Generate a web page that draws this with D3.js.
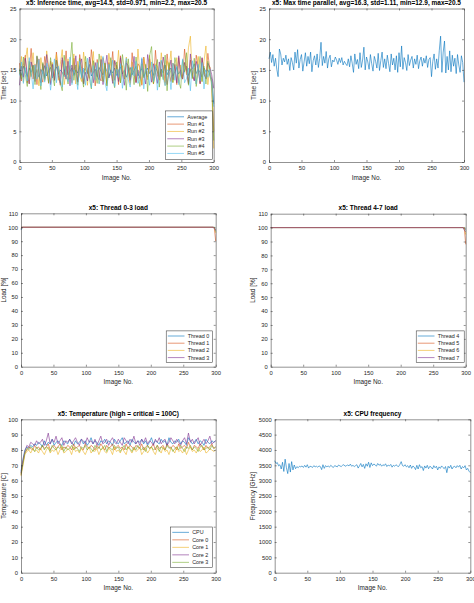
<!DOCTYPE html>
<html>
<head>
<meta charset="utf-8">
<script src="https://cdn.jsdelivr.net/npm/d3@7"></script>
<style>
  body { margin: 0; background: #fff; }
  svg { display: block; font-family: "Liberation Sans", Arial, Helvetica, sans-serif; }
</style>
</head>
<body>
<svg id="fig" width="474" height="603"></svg>
<script>
// ---------------- data ----------------
var xTicks = [0, 50, 100, 150, 200, 250, 300];

// inference time per run, one sample every 3 images (0..300)
var timeStep = 3;
var timeAvg = [15.2,14.1,15.6,14.8,13.9,15.3,14.6,15.8,14.2,14.9,13.8,15.1,14.4,15.7,14.0,14.8,15.4,13.7,14.9,15.5,
  14.3,15.0,14.6,13.9,15.6,14.2,14.8,15.3,14.1,15.0,14.5,15.7,13.8,14.9,15.2,14.4,15.9,14.0,14.6,15.1,
  13.9,15.4,14.7,14.2,15.6,14.8,13.7,15.0,14.5,15.3,14.1,14.9,15.5,14.3,15.0,13.8,14.7,15.4,14.2,14.9,
  15.6,14.0,14.8,15.2,13.9,14.6,15.3,14.4,15.0,14.1,15.5,14.7,13.8,15.1,14.5,15.8,14.2,14.9,15.3,14.0,
  14.7,15.4,14.3,15.0,13.9,14.8,15.6,14.1,14.9,15.2,16.0,14.4,15.1,14.6,13.8,15.3,14.7,15.0,14.2,13.5,9.5];
var timeRun1 = [16.1,13.2,15.8,17.4,12.9,14.6,18.5,13.5,15.9,12.6,16.8,14.1,13.0,17.2,15.3,12.8,16.4,14.9,13.3,17.9,
  15.0,12.5,16.6,14.2,18.1,13.4,15.7,12.9,16.9,14.4,13.1,17.5,15.2,12.7,16.3,14.8,13.6,18.3,15.4,12.4,
  16.7,14.0,13.2,17.0,15.6,12.8,16.2,14.5,18.0,13.3,15.8,12.6,17.3,14.7,13.5,16.5,15.1,12.9,17.8,14.3,
  13.0,16.0,15.5,12.5,17.1,14.6,13.8,16.8,15.0,12.7,18.2,14.2,13.4,16.4,15.7,12.9,17.6,14.8,13.1,16.1,
  15.3,12.6,17.0,14.4,13.7,18.4,15.2,12.8,16.6,14.0,13.3,17.4,15.6,12.7,16.9,14.9,13.5,17.7,15.1,13.0,5.0];
var timeRun2 = [14.3,17.2,13.0,16.5,18.6,12.8,15.4,17.8,13.6,15.1,12.4,17.0,14.8,13.2,18.1,15.6,12.9,16.2,14.1,17.5,
  13.3,15.9,18.3,12.6,14.7,16.8,13.5,15.2,17.6,12.7,16.4,14.0,13.1,17.9,15.3,12.5,16.7,14.6,18.0,13.4,
  15.0,12.8,17.3,14.3,16.1,12.4,17.7,15.5,13.2,16.6,14.4,18.2,12.9,15.7,13.6,17.1,14.9,12.6,16.3,15.0,
  13.0,18.4,14.5,12.7,16.9,15.2,13.4,17.4,14.1,12.8,16.0,15.6,13.3,17.8,14.7,12.5,16.5,15.1,18.1,13.0,
  14.6,17.0,12.9,15.8,13.5,16.2,14.2,18.6,20.5,13.6,15.3,12.7,17.2,14.8,13.1,16.4,18.9,12.6,15.5,12.0,2.2];
var timeRun3 = [12.5,15.6,13.8,16.9,14.2,12.7,16.3,15.0,13.1,17.2,14.5,12.9,16.0,13.6,17.5,14.8,12.6,15.9,13.3,16.6,
  14.1,12.8,17.0,15.2,13.5,16.4,12.4,15.8,14.3,17.3,13.0,15.5,16.8,12.7,14.6,13.2,17.1,15.3,12.9,16.2,
  14.0,13.4,16.7,12.6,15.1,17.4,13.7,14.9,12.8,16.5,15.4,13.1,17.0,14.2,12.5,16.1,15.7,13.3,14.7,17.2,
  12.9,15.0,13.6,16.8,14.4,12.7,17.5,15.3,13.0,16.0,14.6,12.8,16.3,13.9,17.1,15.2,12.6,14.8,16.6,13.4,
  15.9,12.9,17.3,14.1,13.5,16.2,15.0,12.7,17.6,14.5,13.2,16.4,15.1,12.8,17.0,14.3,13.6,16.1,15.4,14.2,12.0];
var timeRun4 = [15.0,13.5,17.1,14.2,12.3,16.4,13.9,15.7,12.6,17.3,14.8,11.8,16.2,13.4,15.5,12.9,17.0,14.1,12.4,16.6,
  15.2,13.0,11.6,17.4,14.5,12.7,16.0,19.5,13.3,15.8,12.5,16.9,14.0,12.2,17.2,15.1,13.6,11.9,16.5,14.7,
  12.8,17.6,15.3,13.1,16.1,12.4,14.9,17.0,13.5,12.1,16.3,14.4,12.9,17.5,15.0,11.7,16.8,13.8,15.4,12.6,
  17.1,14.2,12.3,16.0,13.7,15.9,11.5,17.3,18.8,12.8,14.6,16.7,12.2,15.1,13.4,17.4,11.6,16.2,14.3,12.9,
  17.0,15.5,13.2,12.0,16.6,14.7,17.8,12.5,15.2,13.6,16.9,12.3,14.8,17.2,13.1,15.6,12.7,16.4,14.0,13.0,3.5];
var timeRun5 = [14.1,16.3,12.8,15.4,13.2,17.0,14.6,11.9,15.8,13.5,16.7,12.4,14.9,13.0,16.1,15.2,11.7,14.4,16.8,12.9,
  15.6,13.7,12.2,16.5,14.3,13.1,17.1,12.6,15.0,14.2,11.8,16.4,13.6,15.3,12.5,16.9,14.8,12.1,15.7,13.3,
  16.2,12.7,14.5,17.2,13.0,11.6,15.9,14.1,16.6,12.3,15.1,13.8,16.0,12.0,14.7,16.9,13.4,12.2,15.5,14.0,
  16.4,12.8,13.5,17.0,11.9,15.2,14.6,12.5,16.3,13.1,15.8,11.7,14.3,16.6,13.7,12.4,15.0,14.8,11.8,16.1,
  13.3,15.6,12.6,14.2,16.8,12.9,13.6,15.3,11.6,16.5,14.4,12.7,15.9,13.2,16.2,11.9,14.9,13.8,15.1,12.5,9.0];

// max time in parallel, one sample every 2 images
var maxStep = 2;
var maxTime = [16.8,17.9,16.2,17.5,15.6,16.9,15.1,13.9,18.4,17.6,15.8,16.9,16.3,17.4,15.9,16.8,14.9,17.0,16.2,15.0,
  17.9,16.1,18.3,15.3,16.7,17.5,14.8,16.3,17.8,15.6,17.2,16.0,17.9,14.7,16.5,17.3,15.8,17.6,15.4,16.9,
  19.5,15.7,17.2,16.1,18.0,15.3,16.8,17.4,15.5,16.6,16.3,17.1,16.6,15.9,16.9,16.2,17.0,15.8,16.4,16.0,
  15.7,16.8,15.5,17.3,16.1,14.6,17.6,15.9,16.7,15.2,17.8,15.4,16.6,18.7,15.0,17.1,16.3,15.1,17.5,16.0,
  14.8,17.2,16.4,15.3,17.7,14.9,16.5,17.9,15.4,16.8,15.2,17.4,16.0,14.7,17.6,15.8,16.9,15.0,17.3,14.6,
  17.8,15.5,18.9,15.1,17.0,16.2,14.9,17.5,15.7,16.6,17.2,15.3,16.8,15.9,17.4,15.2,16.5,17.1,15.6,16.9,
  16.1,17.3,15.4,16.7,17.0,13.9,16.4,17.6,15.1,16.8,15.3,18.2,20.5,14.6,17.9,19.7,14.5,17.2,15.0,18.1,
  14.7,17.4,15.6,16.9,14.4,17.5,15.8,14.6,17.3,16.2,13.0];

// thread load, sampled where it changes
var loadX = [0, 2, 296, 298, 300];
var thread0 = [98, 100, 100, 100, 97];
var thread1 = [99, 100, 100, 99, 90];
var thread2 = [100, 100, 100, 100, 96];
var thread3 = [100, 100, 100, 99, 98];
var thread4 = [100, 100, 100, 100, 98];
var thread5 = [100, 100, 100, 99, 88];
var thread6 = [100, 100, 100, 100, 95];
var thread7 = [100, 100, 100, 98, 97];

// temperatures, one sample every 3 images
var tempStep = 3;
var tempCpu = [66,74,80,82,81,83,82,84,83,85,84,82,86,83,85,84,87,83,85,86,84,83,86,85,84,87,85,83,86,84,
  85,87,84,86,83,85,88,84,86,85,83,86,85,87,84,86,85,83,87,85,84,86,88,84,85,86,83,87,85,84,
  86,85,87,84,86,83,85,88,84,86,85,84,87,85,86,83,88,85,84,86,85,87,84,86,85,83,88,86,84,85,
  87,84,86,85,83,87,85,84,86,85,86];
var tempCore0 = [64,72,78,80,82,81,80,83,81,82,80,83,81,82,84,80,82,83,81,82,84,80,82,81,83,82,80,84,81,82,
  83,81,80,84,82,81,83,82,80,83,81,84,82,80,83,81,82,84,80,82,83,81,82,80,84,81,83,82,80,83,
  82,81,84,80,82,83,81,82,84,80,83,81,82,83,80,84,82,81,83,82,80,84,81,82,83,81,85,82,80,83,
  82,81,84,82,80,83,81,82,84,81,82];
var tempCore1 = [63,70,77,79,80,78,81,79,80,78,81,79,77,80,82,78,80,79,81,77,80,82,78,79,81,80,77,82,79,80,
  78,81,79,77,80,82,78,80,79,81,77,80,82,79,78,81,80,77,82,79,80,78,81,79,77,82,80,78,81,79,
  80,82,77,79,81,78,80,82,79,77,81,80,78,82,79,80,77,81,80,78,82,79,80,78,81,77,80,82,79,80,
  78,81,79,80,82,78,79,81,80,79,80];
var tempCore2 = [65,73,79,83,82,85,84,83,86,84,85,87,83,86,91,84,87,85,89,84,86,88,83,86,85,87,84,86,88,85,
  83,87,86,84,88,85,86,84,87,83,86,89,84,85,87,83,86,88,85,84,87,85,83,88,86,84,87,85,89,84,
  86,83,87,85,88,84,86,85,83,87,85,88,84,86,87,83,85,88,86,84,87,85,83,86,88,84,91,85,87,84,
  86,88,83,85,87,84,86,89,84,85,86];
var tempCore3 = [64,71,78,81,80,82,81,79,82,80,81,83,80,82,81,79,83,81,80,82,81,83,79,82,80,81,83,80,82,81,
  79,82,81,83,80,82,81,79,83,81,82,80,81,83,79,82,81,80,83,81,82,79,81,83,80,82,81,79,82,80,
  83,81,80,82,79,83,81,82,80,81,83,79,82,81,80,83,81,82,79,81,82,80,83,81,79,82,81,83,80,82,
  81,79,82,83,80,81,82,80,83,81,82];

// CPU frequency, one sample every 2 images
var freqStep = 2;
var cpuFreq = [3650,3560,3590,3480,3520,3380,3600,3300,3700,3420,3230,3560,3280,3620,3350,3510,3390,3460,3420,3470,
  3450,3480,3430,3500,3440,3520,3410,3470,3460,3430,3490,3450,3470,3440,3480,3460,3360,3520,3400,3490,
  3450,3480,3440,3500,3460,3430,3490,3470,3450,3510,3480,3460,3500,3520,3470,3490,3510,3480,3540,3470,
  3500,3460,3490,3520,3410,3480,3560,3450,3530,3400,3550,3470,3600,3430,3580,3490,3540,3520,3470,3560,
  3500,3540,3470,3520,3490,3550,3460,3510,3480,3530,3440,3500,3470,3520,3480,3460,3530,3620,3490,3470,
  3520,3450,3490,3420,3510,3400,3480,3440,3360,3500,3380,3520,3420,3460,3330,3480,3410,3500,3390,3470,
  3440,3380,3490,3420,3470,3350,3450,3400,3480,3430,3390,3460,3260,3470,3410,3500,3380,3450,3470,3420,
  3490,3440,3500,3380,3460,3420,3490,3350,3400,3310,3260];

// ---------------- drawing ----------------
var svg = d3.select("#fig");
var ink = "#262626";
var c = { blue: "#0072BD", orange: "#D95319", yellow: "#EDB120", purple: "#7E2F8E", green: "#77AC30", cyan: "#4DBEEE" };

function stepped(values, step) {
  return values.map(function (v, i) { return [i * step, v]; });
}
function paired(xs, values) {
  return values.map(function (v, i) { return [xs[i], v]; });
}

function panel(p) {
  var x = d3.scaleLinear().domain([0, 300]).range([p.left, p.right]);
  var y = d3.scaleLinear().domain(p.yDomain).range([p.bottom, p.top]);
  var g = svg.append("g");

  var line = d3.line()
    .x(function (d) { return x(d[0]); })
    .y(function (d) { return y(d[1]); });

  p.series.forEach(function (s) {
    g.append("path")
      .datum(s.points)
      .attr("d", line)
      .attr("fill", "none")
      .attr("stroke", s.color)
      .attr("stroke-width", 0.6)
      .attr("stroke-linejoin", "round");
  });

  // axes, MATLAB style: ticks pointing in, box all round
  var fmt = d3.format("d");
  var bottom = g.append("g").attr("transform", "translate(0," + p.bottom + ")")
    .call(d3.axisBottom(x).tickValues(xTicks).tickSize(-2).tickSizeOuter(0).tickPadding(4).tickFormat(fmt));
  var top = g.append("g").attr("transform", "translate(0," + p.top + ")")
    .call(d3.axisTop(x).tickValues(xTicks).tickSize(-2).tickSizeOuter(0).tickFormat(""));
  var left = g.append("g").attr("transform", "translate(" + p.left + ",0)")
    .call(d3.axisLeft(y).tickValues(p.yTicks).tickSize(-2).tickSizeOuter(0).tickPadding(3).tickFormat(fmt));
  var right = g.append("g").attr("transform", "translate(" + p.right + ",0)")
    .call(d3.axisRight(y).tickValues(p.yTicks).tickSize(-2).tickSizeOuter(0).tickFormat(""));

  [bottom, top, left, right].forEach(function (a) {
    a.selectAll("path, line").attr("stroke", ink).attr("stroke-width", 0.5);
    a.selectAll("text").attr("fill", ink).style("font-size", "5.8px");
    a.attr("font-family", null);
  });

  // title and labels
  g.append("text")
    .attr("x", (p.left + p.right) / 2)
    .attr("y", p.top - 3.8)
    .attr("text-anchor", "middle")
    .attr("font-weight", "bold")
    .attr("font-size", 6.5)
    .attr("fill", "#000")
    .text(p.title);

  g.append("text")
    .attr("x", (p.left + p.right) / 2)
    .attr("y", p.bottom + 17.5)
    .attr("text-anchor", "middle")
    .attr("font-size", 6.4)
    .attr("fill", ink)
    .text("Image No.");

  var yc = (p.top + p.bottom) / 2, xc = p.left - p.yLabelOffset + 2.3;
  g.append("text")
    .attr("transform", "translate(" + xc + "," + yc + ") rotate(-90)")
    .attr("text-anchor", "middle")
    .attr("font-size", 6.4)
    .attr("fill", ink)
    .text(p.yLabel);

  if (p.legend) {
    var L = p.legend;
    var lg = g.append("g");
    var h = L.pad * 2 + L.rowStep * p.series.length;
    var lx = p.right - L.gapR - L.width, ly = p.bottom - L.gapB - h;
    lg.append("rect")
      .attr("x", lx).attr("y", ly).attr("width", L.width).attr("height", h)
      .attr("fill", "#fff").attr("stroke", ink).attr("stroke-width", 0.5);
    p.series.forEach(function (s, i) {
      var ry = ly + L.pad + L.rowStep * (i + 0.5);
      lg.append("line")
        .attr("x1", lx + 1.6).attr("x2", lx + 18.3)
        .attr("y1", ry).attr("y2", ry)
        .attr("stroke", s.color).attr("stroke-width", 0.6);
      lg.append("text")
        .attr("x", lx + 21.5).attr("y", ry + 1.9)
        .attr("font-size", 5.4)
        .attr("fill", ink)
        .text(s.name);
    });
  }
}

panel({
  left: 19.5, right: 213.7, top: 8.5, bottom: 162,
  yDomain: [0, 25], yTicks: [0, 5, 10, 15, 20, 25],
  title: "x5: Inference time, avg=14.5, std=0.971, min=2.2, max=20.5",
  yLabel: "Time [sec]", yLabelOffset: 15.5,
  series: [
    { name: "Average", color: c.blue, points: stepped(timeAvg, timeStep) },
    { name: "Run #1", color: c.orange, points: stepped(timeRun1, timeStep) },
    { name: "Run #2", color: c.yellow, points: stepped(timeRun2, timeStep) },
    { name: "Run #3", color: c.purple, points: stepped(timeRun3, timeStep) },
    { name: "Run #4", color: c.green, points: stepped(timeRun4, timeStep) },
    { name: "Run #5", color: c.cyan, points: stepped(timeRun5, timeStep) }
  ],
  legend: { width: 46.6, gapR: 1.4, gapB: 2.7, pad: 2.2, rowStep: 7.33 }
});

panel({
  left: 269, right: 464, top: 8.5, bottom: 162,
  yDomain: [0, 25], yTicks: [0, 5, 10, 15, 20, 25],
  title: "x5: Max time parallel, avg=16.3, std=1.11, min=12.9, max=20.5",
  yLabel: "Time [sec]", yLabelOffset: 15.3,
  series: [{ name: "Max", color: c.blue, points: stepped(maxTime, maxStep) }]
});

var loadTicks = d3.range(0, 111, 10);
panel({
  left: 21, right: 215.7, top: 213.3, bottom: 366.7,
  yDomain: [0, 110], yTicks: loadTicks,
  title: "x5: Thread 0-3 load",
  yLabel: "Load [%]", yLabelOffset: 17.7,
  series: [
    { name: "Thread 0", color: c.blue, points: paired(loadX, thread0) },
    { name: "Thread 1", color: c.orange, points: paired(loadX, thread1) },
    { name: "Thread 2", color: c.yellow, points: paired(loadX, thread2) },
    { name: "Thread 3", color: c.purple, points: paired(loadX, thread3) }
  ],
  legend: { width: 46.5, gapR: 3, gapB: 4, pad: 1.5, rowStep: 7.2 }
});

panel({
  left: 270.7, right: 465.7, top: 213.7, bottom: 366.7,
  yDomain: [0, 110], yTicks: loadTicks,
  title: "x5: Thread 4-7 load",
  yLabel: "Load [%]", yLabelOffset: 17.7,
  series: [
    { name: "Thread 4", color: c.blue, points: paired(loadX, thread4) },
    { name: "Thread 5", color: c.orange, points: paired(loadX, thread5) },
    { name: "Thread 6", color: c.yellow, points: paired(loadX, thread6) },
    { name: "Thread 7", color: c.purple, points: paired(loadX, thread7) }
  ],
  legend: { width: 48, gapR: 1.5, gapB: 4, pad: 1.5, rowStep: 7.2 }
});

panel({
  left: 21, right: 215.7, top: 419.3, bottom: 572.7,
  yDomain: [0, 100], yTicks: d3.range(0, 101, 10),
  title: "x5: Temperature (high = critical = 100C)",
  yLabel: "Temperature [C]", yLabelOffset: 17.7,
  series: [
    { name: "CPU", color: c.blue, points: stepped(tempCpu, tempStep) },
    { name: "Core 0", color: c.orange, points: stepped(tempCore0, tempStep) },
    { name: "Core 1", color: c.yellow, points: stepped(tempCore1, tempStep) },
    { name: "Core 2", color: c.purple, points: stepped(tempCore2, tempStep) },
    { name: "Core 3", color: c.green, points: stepped(tempCore3, tempStep) }
  ],
  legend: { width: 41.6, gapR: 3.4, gapB: 5, pad: 1.6, rowStep: 7.5 }
});

panel({
  left: 274.7, right: 470.3, top: 419.3, bottom: 572.7,
  yDomain: [0, 5000], yTicks: d3.range(0, 5001, 500),
  title: "x5: CPU frequency",
  yLabel: "Frequency [GHz]", yLabelOffset: 21.7,
  series: [{ name: "Frequency", color: c.blue, points: stepped(cpuFreq, freqStep) }]
});
</script>
</body>
</html>
